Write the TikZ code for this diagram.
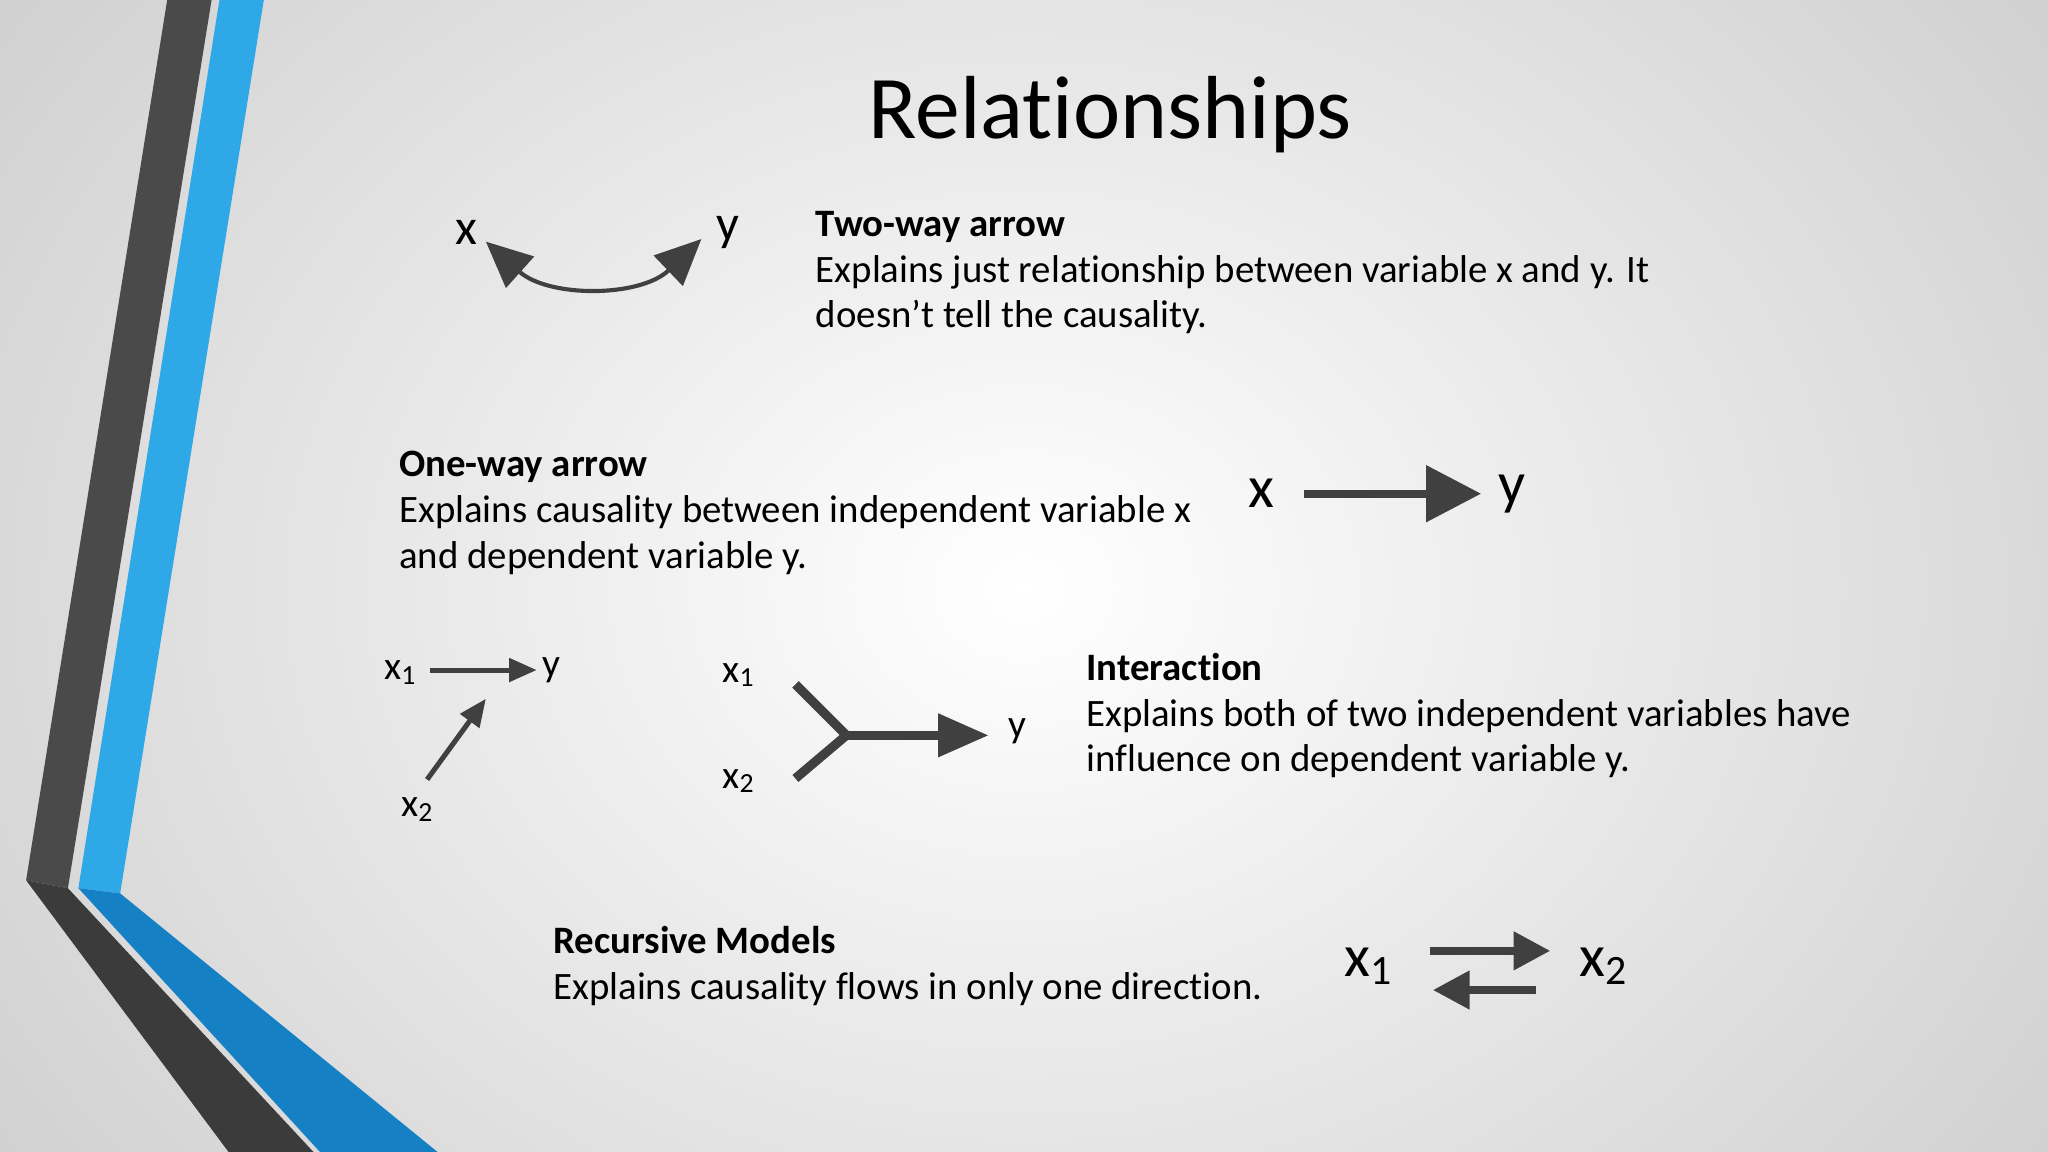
\documentclass[tikz,border=0pt]{standalone}
\usepackage{fontspec}
\setmainfont[Ligatures=NoCommon]{Carlito}
\usetikzlibrary{arrows.meta}
\definecolor{arr}{HTML}{404040}
\definecolor{dstripe}{HTML}{4A4A4A}
\definecolor{bstripe}{HTML}{2FA8E8}
\definecolor{bdark}{HTML}{1580C4}
\tikzset{
  lbl/.style={inner sep=0pt, anchor=base west, font=\fontsize{8.45}{10.3}\selectfont},
  hd/.style={lbl, font=\fontsize{8.45}{10.3}\selectfont\bfseries},
  var/.style={inner sep=1pt, font=\fontsize{8.6}{10}\selectfont},
  bigvar/.style={inner sep=1pt, font=\fontsize{13}{14}\selectfont},
  sar/.style={draw=arr, line width=1.1pt, -{Triangle[length=6pt,width=5pt]}},
}
\begin{document}
\begin{tikzpicture}[x=0.01cm,y=-0.01cm]
\useasboundingbox (0,0) rectangle (1568,882);
\shade[inner color=white, outer color=gray!45] (-400,-500) rectangle (1968,1400);
\clip (0,0) rectangle (1568,882);
% stripes
\fill[dstripe] (128,0) -- (162,0) -- (52,680) -- (20,674) -- cycle;
\fill[bstripe] (168,0) -- (202,0) -- (92,684) -- (60,680) -- cycle;
\fill[bdark] (60,680) -- (92,684) -- (335,882) -- (245,882) -- cycle;
\fill[dstripe!80!black] (20,674) -- (52,680) -- (240,882) -- (175,882) -- cycle;
% title
\node[inner sep=0pt, font=\fontsize{19.5}{22}\selectfont] (t) at (850,88) {Relationships};
% two-way
\node[var, font=\fontsize{11}{12}\selectfont] (x0) at (357,178) {x};
\node[var, font=\fontsize{11}{12}\selectfont] (y0) at (557,178) {y};
\coordinate (a0) at (372,185);
\coordinate (b0) at (537,183);
\draw[draw=arr, line width=0.9pt, {Triangle[length=10pt,width=9pt]}-{Triangle[length=10pt,width=9pt]}] (a0) .. controls (420,228) and (490,228) .. (b0);
\node[hd] (h1) at (624,181) {Two-way arrow};
\node[lbl] (d1) at (624,216) {Explains just relationship between variable x and y. It};
\node[lbl] (d1b) at (624,251) {doesn’t tell the causality.};
% one-way
\node[hd] (h2) at (305,365) {One-way arrow};
\node[lbl] (d2) at (305,400) {Explains causality between independent variable x};
\node[lbl] (d2b) at (305,435) {and dependent variable y.};
\node[bigvar] (x2) at (966,378) {x};
\node[bigvar] (y2) at (1158,378) {y};
\coordinate (s2) at (998,378);
\coordinate (e2) at (1134,378);
\draw[draw=arr, line width=1.8pt, -{Triangle[length=12pt,width=12pt]}] (s2) -- (e2);
% interaction left
\node[var] (x31) at (307,515) {x\textsubscript{1}};
\node[var] (y31) at (422,513) {y};
\node[var] (x32) at (320,620) {x\textsubscript{2}};
\draw[sar] (x31.east)++(5,-2) -- (y31.west);
\draw[sar] (x32.north)++(7,-10) -- (372,535);
% interaction middle
\node[var] (x41) at (566,517) {x\textsubscript{1}};
\node[var] (x42) at (566,598) {x\textsubscript{2}};
\node[var] (y4) at (779,560) {y};
\coordinate (j) at (648,563);
\coordinate (u) at (609,524);
\coordinate (l) at (609,596);
\draw[arr, line width=2pt] (u) -- (j) -- (l);
\draw[draw=arr, line width=2pt, -{Triangle[length=11pt,width=9pt]}] (j) -- (757,563);
\node[hd] (h3) at (831,521) {Interaction};
\node[lbl] (d3) at (831,556) {Explains both of two independent variables have};
\node[lbl] (d3b) at (831,591) {influence on dependent variable y.};
% recursive
\node[hd] (h4) at (423,730) {Recursive Models};
\node[lbl] (d4) at (423,765) {Explains causality flows in only one direction.};
\node[bigvar] (x5) at (1048,740) {x\textsubscript{1}};
\node[bigvar] (x6) at (1228,740) {x\textsubscript{2}};
\draw[draw=arr, line width=1.8pt, -{Triangle[length=8pt,width=8pt]}] (1095,728) -- (1187,728);
\draw[draw=arr, line width=1.8pt, -{Triangle[length=8pt,width=8pt]}] (1176,758) -- (1097,758);
\end{tikzpicture}
\end{document}
